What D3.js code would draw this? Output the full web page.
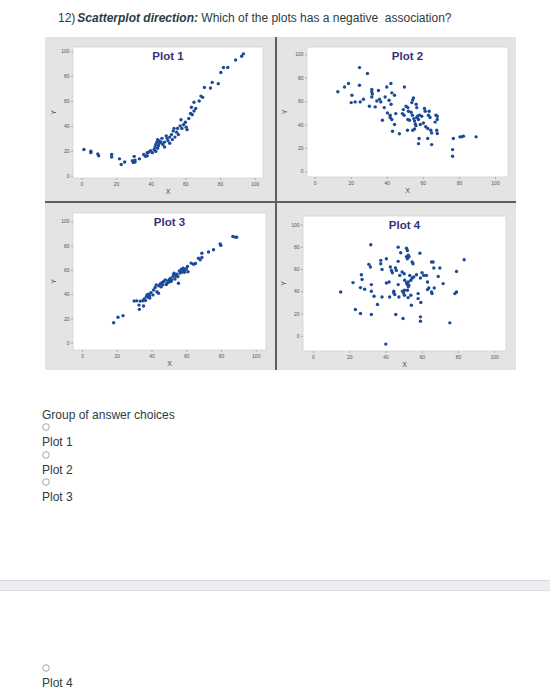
<!DOCTYPE html>
<html>
<head>
<meta charset="utf-8">
<script src="https://cdn.jsdelivr.net/npm/d3@7"></script>
<style>
  body { margin: 0; background: #fff; }
  svg text { font-family: "Liberation Sans", Arial, Helvetica, sans-serif; }
</style>
</head>
<body>
<div id="page"></div>
<script>
const plotNames = ['Plot 1', 'Plot 2', 'Plot 3', 'Plot 4'];

const plot1Points = [
  [1.5,21],[5.5,19.6],[5.5,18.5],[9.5,17.5],[10,16],[17.5,17],[17.5,15],[22,13.5],[23,9],[25,11],
  [29.5,12],[30,10.5],[30.5,15.5],[31,11],[31,12.5],[33.5,13.5],[36,17],[37,15.5],[38,18.5],[38,16],
  [39,19],[40,20],[41,18.5],[42,21],[42.5,23],[43,19.5],[43,25],[43.5,27],[44,22],[44,29],
  [44.5,24],[45,26],[45,28],[46,27],[46.5,30],[47,25],[48,27],[48,23],[49,32],[49.5,30],
  [50,28],[51,26],[51,31],[52,33],[52.5,29],[53,36],[53.5,38],[54,31],[55,35],[55.5,38],
  [56,33],[57,40],[57.5,45],[58,38],[59,41],[60,43],[60.5,39],[61,37],[62,46],[63,50],
  [63.5,55],[64,49],[65,52],[65,59],[66,54],[68,60],[69,64],[70,63],[71,71],[74.5,70.5],
  [75.5,75],[79,74],[80.5,83],[82,87],[84.5,87],[89,93],[92.5,96],[93.5,98]
];

const plot2Points = [
  [12.9,68],[16.6,72],[18.8,75],[20.7,65],[20.3,58.7],[22.5,59.3],[24.9,88.6],[24.9,73.5],[25.3,59.3],[27.1,61.5],
  [29.3,83.5],[30.4,55.6],[31.7,70],[31.7,68],[32,66],[31.7,63.5],[33.6,55],[34.5,60],[35.4,69],[36,61.5],
  [36.7,59.3],[37.6,43.6],[38.6,54.4],[39.1,63.5],[40,72],[40.4,49.9],[41.3,60.7],[41.9,47.9],[42.3,75],[42.4,57.3],
  [42.8,67],[41.9,45.9],[42.8,44.3],[43.2,34.2],[44.3,65],[45,49.3],[44.3,40],[47,32],[48.7,49.3],[49.6,47.9],
  [49.2,52.7],[49.8,72],[50.7,55.6],[51.7,54.4],[52,51.3],[51.7,44.2],[51.5,35],[52.6,43.6],[53.5,50.4],[53.9,58.7],
  [54.2,47.9],[54.4,61],[54.8,62.7],[54.4,35],[55.4,36.2],[55,45],[55.4,43],[55.8,40.5],[56.2,39],[56.3,57.3],
  [56.6,54.4],[56.6,46],[57.2,47.2],[57.6,44.3],[58.2,48],[58.6,40],[57.9,28],[57.6,23.6],[59.4,47],[60.3,41.3],
  [60.9,53.6],[61.3,51.3],[61.6,38],[62.7,36.5],[63.1,47.9],[63.5,51.3],[64,45.9],[62.7,28],[64.4,35],[64.9,32.8],
  [64.9,22.8],[66.8,42],[67.2,48],[68,47],[68,44.3],[67.7,35],[68,32.3],[76.9,28],[76.5,18.5],[76.5,12.8],
  [80.6,29.4],[81.5,29.4],[82.5,30],[89.5,29.4]
];

const plot3Points = [
  [18.2,16.5],[20.7,21],[23.6,22.3],[30,34.4],[31.5,34.5],[32.8,31],[33,27.5],[33.5,34.3],[35,34.6],[35.4,30.3],
  [35.8,36],[36.5,34.8],[37,38],[37.5,39.5],[38,37.5],[38.3,40],[38.8,38.5],[39,36.8],[39.7,41.3],[40.8,39.4],
  [41.2,43.5],[42.1,45.5],[42.7,47.7],[43.1,42],[44,40.8],[44.2,47],[45,48.5],[45.5,46],[46,49.5],[46.5,47.8],
  [47,50.5],[47.9,51.8],[48.5,48],[48.9,49],[49.4,51],[49.8,49.9],[50.3,52],[50.8,53],[51.2,50.5],[51.7,51.8],
  [52.3,54.5],[52.8,56.5],[53,57.3],[53.5,52.5],[54,55],[54.6,56.5],[55.2,54.5],[55.5,49],[56,59.2],[56.5,57.5],
  [57.2,60.5],[57.8,58.3],[58.2,61.5],[58.6,59.5],[59,58],[59.4,60.3],[60,61],[60.7,62.8],[61,58.5],[62.8,65.6],
  [64.2,64.7],[65.3,65.3],[67,69.7],[68,68.3],[69,70.2],[69,73.8],[72.8,74.7],[75.7,76.6],[79.5,81.3],[79.9,80.2],
  [86.8,87.6],[88.1,87],[89,87]
];

const plot4Points = [
  [15.3,39.4],[22.1,47.8],[23.4,23.6],[26.7,54.9],[27.1,50.7],[26.2,43.3],[28.5,41.8],[26.2,20],[30.8,64.2],[31.7,61.8],
  [31.9,81.8],[32.2,46],[32.2,40],[32.2,19.1],[33.7,35.5],[35.6,28.1],[37.4,67.8],[37.4,64.8],[38.1,59.7],[38.1,34.9],
  [40.5,69.3],[40.5,47.5],[40.2,-7.5],[42,48.4],[42.7,61.8],[43.3,58.8],[42.3,34.9],[43.8,56.7],[44.6,40],[44.6,38.5],
  [45.1,37],[45.5,60.9],[46,58.8],[45.7,19.1],[47,79.7],[47,66.9],[47,46],[47.9,54.3],[47.4,34.9],[48.4,74.6],
  [49.2,57.3],[49.4,40],[50,38.5],[50.5,41],[50.5,36.5],[49.7,15.5],[50.3,55.8],[50.6,49.9],[51.6,78.8],[52.1,76.7],
  [51.6,71],[52.1,69.3],[52.6,72.5],[53,71],[51.6,47.5],[52.1,46],[52.6,48.4],[52.9,45.4],[52.6,44],[52.1,40.9],
  [52.5,34.3],[53.4,54.3],[54,49.9],[54.7,51.9],[54,36.4],[54.3,27.5],[54.7,66.3],[55.2,64.8],[55.6,52.8],[57.1,54.9],
  [58,37.9],[58,33.4],[59,74.3],[59.3,51.9],[59.5,29.9],[59.3,17],[59.3,13.1],[60.2,56.7],[61.1,54.3],[62.6,54.3],
  [63.2,48.4],[63.2,41.5],[63.9,43],[65.4,66.3],[66.3,66.3],[65.4,39.4],[65.7,37.9],[66.7,60.9],[66.9,43],[69.1,53.4],
  [70,60.9],[71.8,46.9],[75.5,11.6],[78.3,37.9],[79.2,39.4],[79.2,57.9],[83.4,68.4]
];

const tickValues = [0, 20, 40, 60, 80, 100];
const xDomains = [[-4.8, 104.8], [-4.2, 107.2], [-5.2, 105.9], [-5.5, 106.5]];
const yDomains = [[-1.9, 103.5], [-4.9, 106.2], [-6, 106.9], [-13.7, 107.7]];
const answerChoices = ['Plot 1', 'Plot 2', 'Plot 3', 'Plot 4'];

const allPoints = [plot1Points, plot2Points, plot3Points, plot4Points];

const width = 550, height = 700;

// white data regions of the four minitab panels
const boxes = [
  { x0: 73, y0: 47, x1: 263, y1: 178, yl: 17 },
  { x0: 307, y0: 47, x1: 508, y1: 177, yl: 20 },
  { x0: 73, y0: 213, x1: 266, y1: 350, yl: 17 },
  { x0: 303, y0: 216, x1: 506, y1: 351, yl: 17 }
];

const svg = d3.select('#page')
  .append('svg')
  .attr('width', width)
  .attr('height', height);

// question
const q = svg.append('text')
  .attr('x', 58)
  .attr('y', 22)
  .attr('fill', '#2d3b45')
  .style('font-size', '12px')
  .style('white-space', 'pre');
q.append('tspan').text('12)');
q.append('tspan').attr('dx', 2).attr('font-weight', 'bold').attr('font-style', 'italic').text('Scatterplot direction:');
q.append('tspan').text(' Which of the plots has a negative  association?');

// gray figure background and dividers
svg.append('rect')
  .attr('x', 45).attr('y', 37)
  .attr('width', 471).attr('height', 333)
  .attr('fill', '#e4e4e4');

svg.append('line')
  .attr('x1', 45).attr('x2', 516).attr('y1', 202).attr('y2', 202)
  .attr('stroke', '#5e5e5e').attr('stroke-width', 2);
svg.append('line')
  .attr('x1', 276).attr('x2', 276).attr('y1', 37).attr('y2', 370)
  .attr('stroke', '#5e5e5e').attr('stroke-width', 2);

allPoints.forEach((pts, i) => {
  const b = boxes[i];
  const x = d3.scaleLinear().domain(xDomains[i]).range([b.x0, b.x1]);
  const y = d3.scaleLinear().domain(yDomains[i]).range([b.y1, b.y0]);
  const g = svg.append('g');

  g.append('rect')
    .attr('x', b.x0).attr('y', b.y0)
    .attr('width', b.x1 - b.x0).attr('height', b.y1 - b.y0)
    .attr('fill', '#fff')
    .attr('stroke', '#d2d2d2')
    .attr('stroke-width', 0.8);

  const xAxis = g.append('g')
    .attr('transform', `translate(0, ${b.y1})`)
    .call(d3.axisBottom(x).tickValues(tickValues).tickSize(2).tickPadding(2.5));
  const yAxis = g.append('g')
    .attr('transform', `translate(${b.x0}, 0)`)
    .call(d3.axisLeft(y).tickValues(tickValues).tickSize(2).tickPadding(1.5));

  [xAxis, yAxis].forEach(a => {
    a.select('.domain').remove();
    a.selectAll('line').attr('stroke', '#888').attr('stroke-width', 0.6);
    a.selectAll('text').attr('fill', '#555').style('font-size', '5px');
  });

  g.append('text')
    .attr('x', (b.x0 + b.x1) / 2)
    .attr('y', b.y1 + 15.5)
    .attr('text-anchor', 'middle')
    .attr('fill', '#444')
    .style('font-size', '7px')
    .text('X');

  g.append('text')
    .attr('transform', `translate(${b.x0 - b.yl}, ${(b.y0 + b.y1) / 2}) rotate(-90)`)
    .attr('text-anchor', 'middle')
    .attr('fill', '#444')
    .style('font-size', '7px')
    .text('Y');

  g.append('text')
    .attr('x', (b.x0 + b.x1) / 2)
    .attr('y', b.y0 + 12.5)
    .attr('text-anchor', 'middle')
    .attr('fill', '#3b2f7d')
    .attr('font-weight', 'bold')
    .style('font-size', '11.5px')
    .text(plotNames[i]);

  g.selectAll('.dot')
    .data(pts)
    .enter()
    .append('circle')
    .attr('class', 'dot')
    .attr('cx', d => x(d[0]))
    .attr('cy', d => y(d[1]))
    .attr('r', 1.7)
    .attr('fill', '#1b4a98');
});

// answer choices
svg.append('text')
  .attr('x', 42).attr('y', 419)
  .attr('fill', '#2d3b45')
  .style('font-size', '12px')
  .text('Group of answer choices');

const radioY = [427, 455, 482, 668];

answerChoices.forEach((c, i) => {
  svg.append('circle')
    .attr('cx', 46).attr('cy', radioY[i])
    .attr('r', 3.3)
    .attr('fill', '#fff')
    .attr('stroke', '#9a9a9a')
    .attr('stroke-width', 0.9);
  svg.append('text')
    .attr('x', 42).attr('y', radioY[i] + 19)
    .attr('fill', '#2d3b45')
    .style('font-size', '12px')
    .text(c);
});

// separator band
svg.append('rect')
  .attr('x', 0).attr('y', 580)
  .attr('width', width).attr('height', 11)
  .attr('fill', '#ededf1');
svg.append('line')
  .attr('x1', 0).attr('x2', width).attr('y1', 580.5).attr('y2', 580.5)
  .attr('stroke', '#d9d9e0');
svg.append('line')
  .attr('x1', 0).attr('x2', width).attr('y1', 590.5).attr('y2', 590.5)
  .attr('stroke', '#dcdce2');
</script>
</body>
</html>
